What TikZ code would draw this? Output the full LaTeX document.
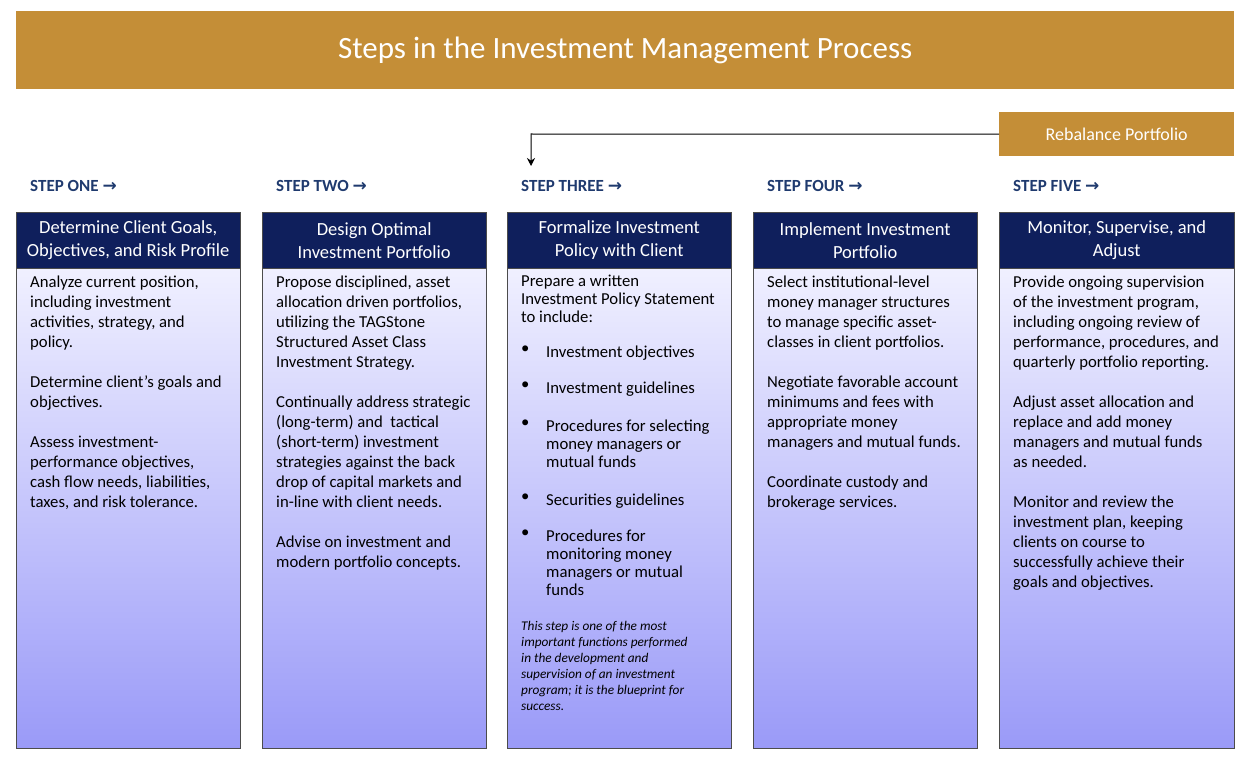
\documentclass[tikz,border=0pt]{standalone}
\usepackage{fontspec}
\usetikzlibrary{arrows.meta}
\setmainfont{Carlito}
\newfontfamily\dv{DejaVu Sans}
\definecolor{gold}{HTML}{C48E37}
\definecolor{navy}{HTML}{0F1F5C}
\definecolor{steptxt}{HTML}{1F3A6E}
\definecolor{gtop}{HTML}{F0F0FF}
\definecolor{gbot}{HTML}{9A9AF8}
\begin{document}
\begin{tikzpicture}[x=1pt,y=-1pt,
  hdr/.style={fill=navy,draw=black!70,text=white,minimum width=224,minimum height=56,anchor=north west,align=center,font=\fontsize{18.5}{23}\selectfont,inner sep=0},
  bodybox/.style={top color=gtop,bottom color=gbot,draw=black!70,minimum width=224,minimum height=480,anchor=north west,inner sep=0},
  txt/.style={anchor=north west,align=left,font=\fontsize{16.7}{20}\selectfont,inner sep=0},
  btxt/.style={anchor=north west,align=left,font=\fontsize{16.7}{18}\selectfont,inner sep=0},
  steplbl/.style={anchor=west,text=steptxt,font=\fontsize{17}{18}\selectfont\bfseries,inner sep=0}]
\useasboundingbox (0,0) rectangle (1248,765);
\node[fill=gold,minimum width=1218,minimum height=78,anchor=north west,inner sep=0,text=white,font=\fontsize{31}{34}\selectfont] (title) at (16,11) {Steps in the Investment Management Process};
\node[fill=gold,minimum width=235,minimum height=44,anchor=north west,inner sep=0,text=white,font=\fontsize{18}{20}\selectfont] (reb) at (999,112) {Rebalance Portfolio};
\foreach \x/\n/\l in {30/s1/STEP ONE,276/s2/STEP TWO,521/s3/STEP THREE,767/s4/STEP FOUR,1013/s5/STEP FIVE}
  \node[steplbl] (\n) at (\x,186) {\l\ {\dv\bfseries\fontsize{17}{17}\selectfont →}};
\coordinate (turn) at (531,134);
\coordinate (tip) at (531,166);
\draw[-{Stealth[length=8,width=8]},line width=1] (reb.west) -- (turn) -- (tip);
\foreach \x/\n in {16/a,262/b,507/c,753/d}
  \node[bodybox] (\n b) at (\x,268) {};
\node[bodybox,minimum width=235] (eb) at (999,268) {};
\node[hdr,minimum width=235] (eh) at (999,212) {Monitor, Supervise, and\\Adjust};
\node[hdr] (ah) at (16,212) {Determine Client Goals,\\Objectives, and Risk Profile};
\node[hdr] (bh) at (262,212) {Design Optimal\\Investment Portfolio};
\node[hdr] (ch) at (507,212) {Formalize Investment\\Policy with Client};
\node[hdr] (dh) at (753,212) {Implement Investment\\Portfolio};
\node[txt] (at) at (30,276) {Analyze current position,\\including investment\\activities, strategy, and\\policy.\\[20pt]Determine client’s goals and\\objectives.\\[20pt]Assess investment-\\performance objectives,\\cash flow needs, liabilities,\\taxes, and risk tolerance.};
\node[txt] (bt) at (276,276) {Propose disciplined, asset\\allocation driven portfolios,\\utilizing the TAGStone\\Structured Asset Class\\Investment Strategy.\\[20pt]Continually address strategic\\(long-term) and\ \ tactical\\(short-term) investment\\strategies against the back\\drop of capital markets and\\in-line with client needs.\\[20pt]Advise on investment and\\modern portfolio concepts.};
\node[btxt] (ct) at (521,275) {Prepare a written\\Investment Policy Statement\\to include:};
\node[btxt] (c1) at (521,346) {•}; \node[btxt] (c1t) at (546,346) {Investment objectives};
\node[btxt] (c2) at (521,382) {•}; \node[btxt] (c2t) at (546,382) {Investment guidelines};
\node[btxt] (c3) at (521,420) {•}; \node[btxt] (c3t) at (546,420) {Procedures for selecting\\money managers or\\mutual funds};
\node[btxt] (c4) at (521,494) {•}; \node[btxt] (c4t) at (546,494) {Securities guidelines};
\node[btxt] (c5) at (521,530) {•}; \node[btxt] (c5t) at (546,530) {Procedures for\\monitoring money\\managers or mutual\\funds};
\node[anchor=north west,align=left,inner sep=0,font=\fontsize{13.3}{16}\selectfont\itshape] (cn) at (521,621) {This step is one of the most\\important functions performed\\in the development and\\supervision of an investment\\program; it is the blueprint for\\success.};
\node[txt] (dt) at (767,276) {Select institutional-level\\money manager structures\\to manage specific asset-\\classes in client portfolios.\\[20pt]Negotiate favorable account\\minimums and fees with\\appropriate money\\managers and mutual funds.\\[20pt]Coordinate custody and\\brokerage services.};
\node[txt] (et) at (1013,276) {Provide ongoing supervision\\of the investment program,\\including ongoing review of\\performance, procedures, and\\quarterly portfolio reporting.\\[20pt]Adjust asset allocation and\\replace and add money\\managers and mutual funds\\as needed.\\[20pt]Monitor and review the\\investment plan, keeping\\clients on course to\\successfully achieve their\\goals and objectives.};
\end{tikzpicture}
\end{document}
